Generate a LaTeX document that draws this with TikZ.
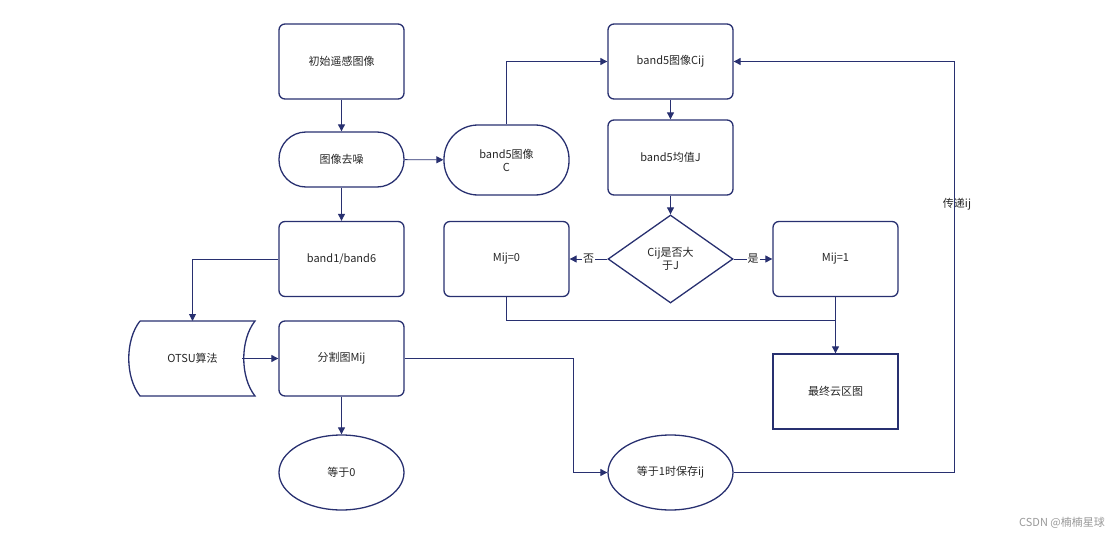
\documentclass[tikz,border=0pt]{standalone}
\usepackage{fontspec}
\setmainfont{Noto Sans CJK SC}
\usetikzlibrary{shapes.geometric,arrows.meta}
\definecolor{nv}{HTML}{283070}
\begin{document}
\begin{tikzpicture}[x=1pt,y=-1pt,
  every node/.style={font=\fontsize{11}{13}\selectfont,text=black!85,align=center},
  box/.style={draw=nv,line width=1.3pt,rounded corners=6pt,minimum width=125pt,minimum height=75pt},
  sbox/.style={draw=nv,line width=1.3pt,minimum width=125pt,minimum height=75pt},
  stad/.style={draw=nv,line width=1.3pt,rounded corners=27pt,minimum width=125pt,minimum height=55pt},
  ell/.style={draw=nv,line width=1.3pt,ellipse,minimum width=125pt,minimum height=75pt},
  ln/.style={draw=nv,line width=0.9pt},
  ar/.style={ln,-{Triangle[length=7pt,width=7pt]}}]
\useasboundingbox (0,0) rectangle (1117,543);
\node[box] (a) at (341.5,61.5) {初始遥感图像};
\node[stad] (b) at (341.5,159.5) {图像去噪};
\node[draw=nv,line width=1.3pt,rounded corners=34pt,minimum width=125pt,minimum height=70pt] (c) at (506.5,160) {band5图像\\C};
\node[box] (d) at (670.5,61.5) {band5图像Cij};
\node[box] (e) at (670.5,157.5) {band5均值J};
\node[draw=nv,line width=1.3pt,diamond,aspect=1.42,minimum width=125pt,minimum height=88pt,inner sep=0pt] (f) at (670.5,259) {Cij是否大\\于J};
\node[box] (g) at (506.5,259) {Mij=0};
\node[box] (h) at (835.5,259) {Mij=1};
\node[box] (i) at (341.5,259) {band1/band6};
\node[minimum width=125pt,minimum height=75pt] (j) at (192.5,358.5) {OTSU算法};
\draw[nv,line width=1.3pt] (140,321) -- (255,321) .. controls (240,340) and (240,377) .. (255,396) -- (140,396) .. controls (125,377) and (125,340) .. (140,321);
\node[box] (k) at (341.5,358.5) {分割图Mij};
\node[ell] (l) at (341.5,472.5) {等于0};
\node[sbox] (m) at (835.5,391.5) {最终云区图};
\node[ell] (n) at (670.5,472.5) {等于1时保存ij};
\coordinate (t) at (954,61.5);
\node at (957,204) {传递ij};
\node[text=gray!80] at (1062,523) {CSDN @楠楠星球};
\draw[ar] (a) -- (b);
\draw[ar] (b) -- (c);
\draw[ar] (c.north) |- (d.west);
\draw[ar] (d) -- (e);
\draw[ar] (e) -- (f);
\draw[ar] (f) -- node[fill=white,inner sep=1pt]{否} (g);
\draw[ar] (f) -- node[fill=white,inner sep=1pt]{是} (h);
\draw[ln] (g.south) |- (835.5,320);
\draw[ar] (h) -- (m);
\draw[ar] (b) -- (i);
\draw[ar] (i.west) -| (192.5,321);
\draw[ar] (242,358.5) -- (k);
\draw[ar] (k) -- (l);
\draw[ar] (k.east) -| (573,472.5) -- (n);
\draw[ar] (n.east) -| (t) -- (d.east);
\end{tikzpicture}
\end{document}
